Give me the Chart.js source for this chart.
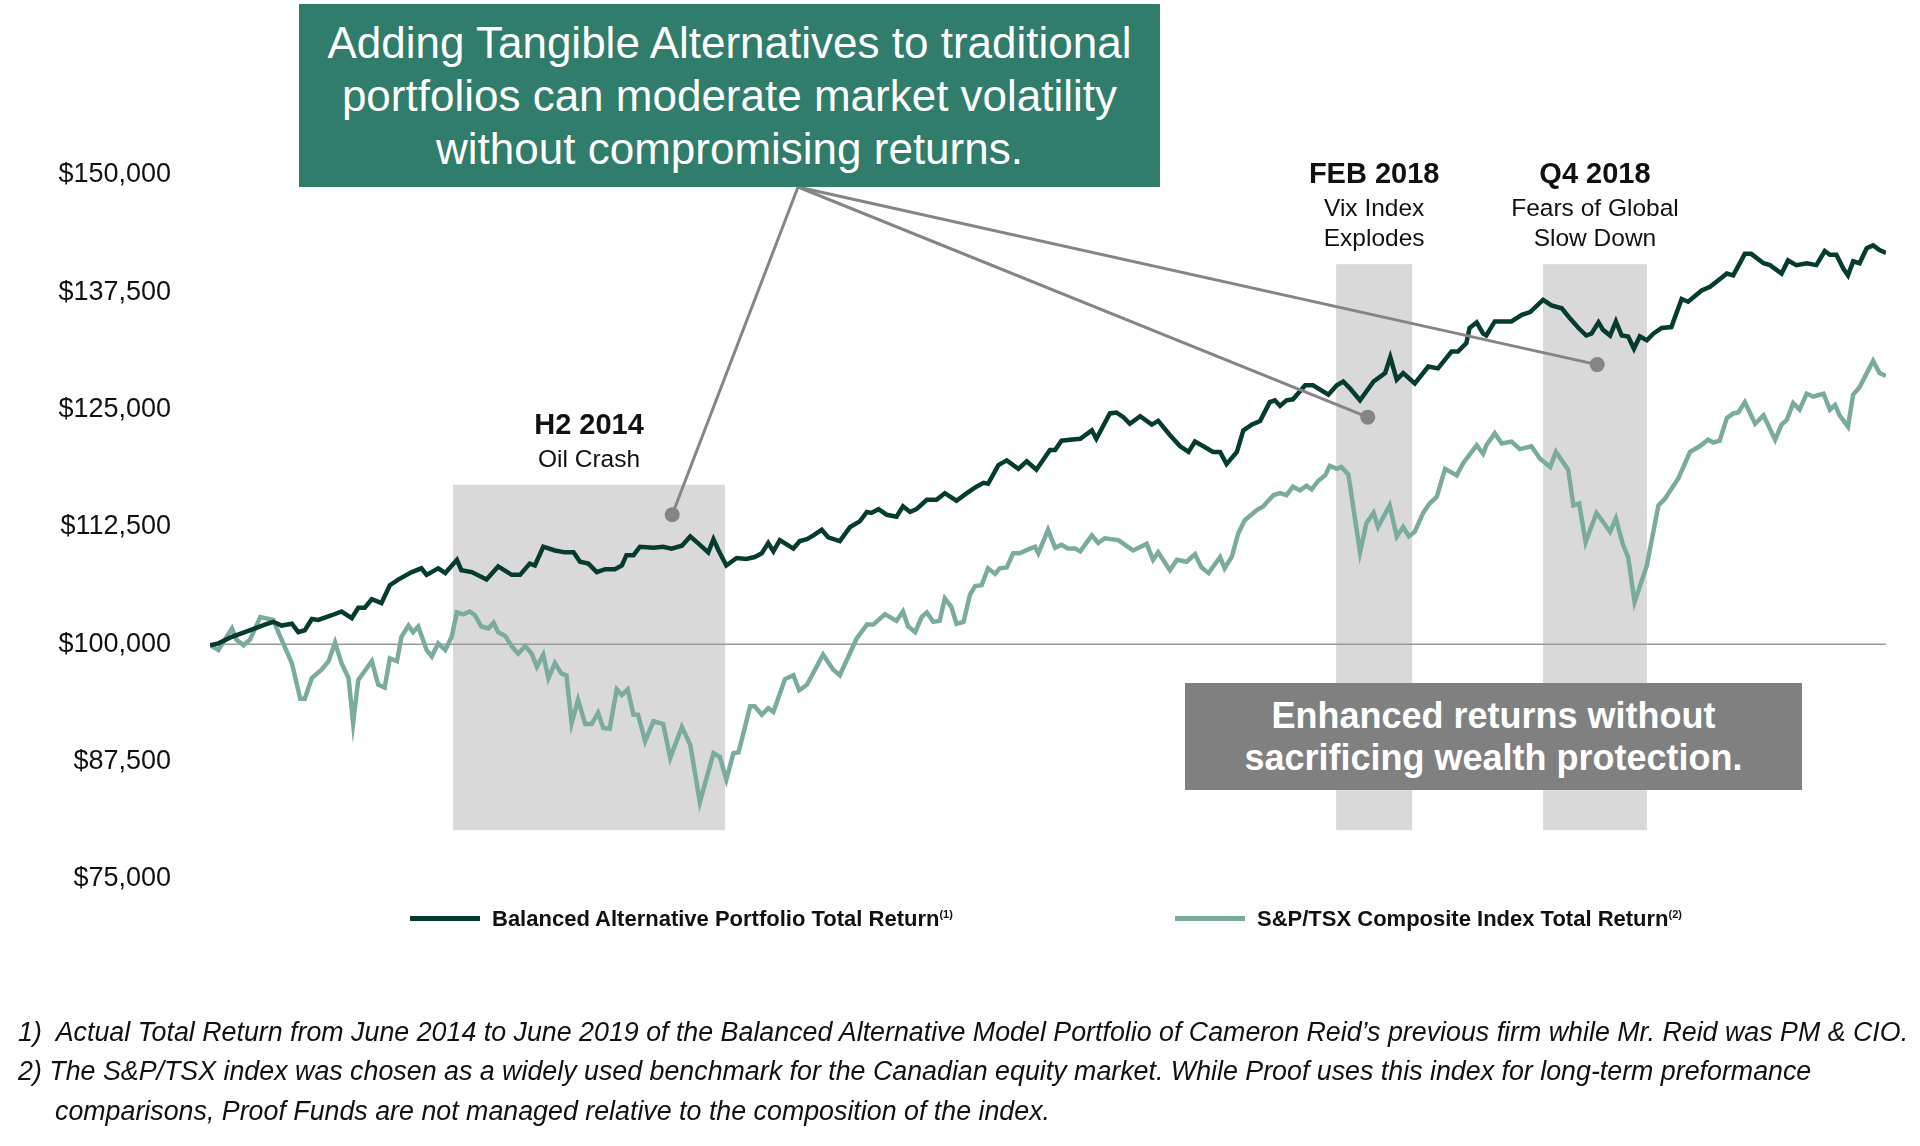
<!DOCTYPE html>
<html><head><meta charset="utf-8">
<script src="https://cdn.jsdelivr.net/npm/chart.js@4"></script>
<style>
html,body{margin:0;padding:0;background:#fff;}
#wrap{position:relative;width:1920px;height:1146px;font-family:"Liberation Sans",Arial,sans-serif;}
canvas{position:absolute;left:0;top:0;}
.box{position:absolute;color:#fff;text-align:center;display:flex;flex-direction:column;justify-content:center;}
#title{left:299px;top:4px;width:861px;height:183px;background:#2f7d6a;font-size:44px;line-height:53px;}
#enh{left:1185px;top:683px;width:617px;height:107px;background:#808080;font-size:36px;font-weight:bold;line-height:42px;}
.leg{position:absolute;top:906px;font-size:22px;font-weight:bold;color:#111;white-space:nowrap;}
.leg span.sw{display:inline-block;width:70px;height:5px;vertical-align:middle;margin-right:12px;position:relative;top:-2px;}
.leg sup{font-size:11px;}
.fn{position:absolute;left:18px;font-size:26.8px;font-style:italic;color:#111;white-space:nowrap;}
</style></head><body>
<div id="wrap">
<canvas id="c" width="1920" height="1146"></canvas>
<div id="title" class="box"><div>Adding Tangible Alternatives to traditional</div><div>portfolios can moderate market volatility</div><div>without compromising returns.</div></div>
<div id="enh" class="box"><div>Enhanced returns without</div><div>sacrificing wealth protection.</div></div>
<div class="leg" style="left:410px"><span class="sw" style="background:#063b30"></span>Balanced Alternative Portfolio Total Return<sup>(1)</sup></div>
<div class="leg" style="left:1175px"><span class="sw" style="background:#7aab9e"></span>S&amp;P/TSX Composite Index Total Return<sup>(2)</sup></div>
<div class="fn" style="top:1017px">1)&nbsp; Actual Total Return from June 2014 to June 2019 of the Balanced Alternative Model Portfolio of Cameron Reid’s previous firm while Mr. Reid was PM &amp; CIO.</div>
<div class="fn" style="top:1056px">2) The S&amp;P/TSX index was chosen as a widely used benchmark for the Canadian equity market. While Proof uses this index for long-term preformance</div>
<div class="fn" style="top:1096px;left:55px">comparisons, Proof Funds are not managed relative to the composition of the index.</div>
</div>
<script>
const yTicks=[75000,87500,100000,112500,125000,137500,150000];
const darkWeeks=[0,1.3,3.4,5.4,7.0,8.5,9.8,11.1,12.7,13.7,14.7,15.8,16.8,18.9,20.4,22.0,23.0,24.0,25.1,26.6,27.9,29.2,31.3,32.8,33.6,35.4,36.5,38.3,39.0,40.6,42.9,44.7,46.8,48.1,49.6,50.4,51.7,53.5,55.1,56.4,57.4,58.7,60.0,61.3,62.8,63.9,64.6,65.7,66.7,
68.8,70.3,71.6,73.2,74.5,76.0,77.3,78.1,78.9,80.1,81.7,83.2,84.5,85.6,86.6,87.4,88.4,90.5,91.5,92.6,93.6,94.9,95.9,97.7,99.3,100.8,101.9,102.6,103.7,105.0,106.5,107.5,108.6,109.6,111.2,112.7,114.0,115.8,117.4,118.9,120.0,120.7,122.3,123.6,125.4,126.7,128.2,130.3,131.1,132.1,133.4,
135.0,136.8,137.5,139.6,140.6,141.7,142.7,144.3,146.1,147.1,148.9,150.5,151.8,152.8,154.1,155.6,156.7,157.7,159.3,160.3,161.6,162.9,164.4,165.2,166.0,167.0,168.0,169.9,171.1,173.5,174.8,175.8,176.8,178.4,180.5,182.3,183.1,184.1,185.1,186.9,189.0,190.5,192.6,193.6,194.9,195.4,196.5,197.5,
198.0,199.3,201.9,203.5,204.8,206.8,208.1,209.7,211.0,212.3,213.5,214.3,215.4,216.1,217.2,218.1,219.0,220.0,220.9,221.8,222.9,223.9,225.2,226.7,228.3,229.3,231.4,232.7,234.2,235.3,236.3,238.1,239.1,241.0,242.0,243.8,244.8,246.1,247.7,249.2,250.5,251.3,252.3,253.4,254.1,254.9,255.9,257.0,258.0,259.0,260.0];
const darkValues=[99900,100100,100800,101300,101700,102100,102400,102000,102200,101300,101500,102700,102600,103100,103500,102800,103900,103900,104800,104400,106300,106900,107700,108100,107400,108100,107600,109000,107900,107700,106900,108300,107400,107400,108600,108400,110400,110000,109800,109800,108800,108600,107700,108000,108000,108400,109500,109500,110400,
110300,110400,110200,110500,111500,110600,109800,111200,110000,108400,109200,109100,109300,109700,110800,109900,111100,110200,111000,111200,111600,112200,111400,111000,112500,113100,114100,114000,114400,113800,113600,114700,114100,114400,115400,115400,116100,115300,116100,116800,117200,117100,119100,119600,118700,119500,118600,120700,120700,121700,121800,
121900,122800,121900,124600,124700,124200,123500,124300,123400,123800,122300,121100,120500,121600,121100,120500,120500,119200,120500,122800,123400,123800,125800,126000,125400,126000,126100,127600,127600,126600,127600,128000,127300,126000,128000,128900,130600,128200,128900,127800,129600,129400,131200,131200,132100,133700,134300,133100,
132900,134400,134400,135100,135400,136700,136100,135800,134700,133700,132900,133100,134300,133500,132900,134400,132900,132800,131500,132800,132400,133100,133700,133800,136800,136500,137700,138100,138900,139500,139300,141600,141600,140600,140400,139500,140900,140400,140600,140400,141900,141500,141500,140000,139300,140800,140600,142200,142500,142000,141700];
const tsxWeeks=[0,1.3,3.4,4.1,5.2,6.2,7.8,9.8,11.1,12.7,14.0,14.7,15.8,17.3,18.4,19.4,20.4,21.5,22.2,23.0,25.1,26.1,27.1,27.9,29.0,29.7,30.8,31.5,32.3,33.6,34.4,35.4,36.5,37.5,38.3,39.3,40.3,41.1,42.1,43.2,44.0,44.7,45.8,46.8,47.8,48.9,49.9,50.7,51.7,52.5,53.5,54.5,55.3,56.1,57.1,58.2,59.2,60.2,61.0,62.0,63.1,63.9,64.8,65.7,66.4,67.5,
68.8,70.3,71.4,73.2,74.5,76.0,78.1,79.1,80.1,81.2,82.0,83.8,84.5,85.6,86.6,87.4,89.2,90.5,91.4,92.6,95.1,96.7,97.7,100.3,101.9,102.9,104.7,106.5,107.5,108.3,109.4,110.4,111.2,112.2,113.2,114.0,115.0,115.8,116.9,117.9,118.7,119.7,120.7,121.8,122.5,123.6,124.6,125.6,127.2,128.0,128.5,130.0,131.1,132.1,133.1,134.2,
135.0,136.8,137.8,138.8,140.9,143.2,145.3,146.3,147.1,148.9,150.0,151.5,152.8,153.8,154.9,156.7,157.4,158.5,159.5,160.5,162.4,163.4,165.0,166.0,167.0,168.0,169.1,170.1,170.9,171.9,173.0,173.7,174.8,175.5,176.6,178.4,179.4,180.5,181.2,183.0,184.1,185.1,186.0,186.9,188.2,189.2,190.3,191.6,193.4,194.4,196.5,197.5,
198.0,199.3,200.4,201.9,203.2,205.0,206.3,207.9,208.8,210.7,211.5,212.4,213.4,215.1,217.2,218.1,219.2,220.0,221.0,222.9,224.7,225.7,227.8,229.6,231.1,232.4,233.2,234.2,235.3,236.3,237.1,238.1,239.7,241.0,242.8,243.8,244.6,245.6,246.6,247.7,248.7,250.3,251.3,252.1,252.8,254.1,254.9,255.9,258.0,259.0,260.0];
const tsxValues=[99900,99400,101700,100500,99900,100500,102900,102600,100500,98000,94200,94200,96400,97300,98200,100200,98000,96400,91600,96200,98200,95700,95400,98500,98200,100800,102000,101300,101900,99400,98700,100100,99400,100800,103400,103200,103500,103100,101900,101700,102300,101300,100900,99800,99000,99800,99000,97600,98900,96400,98000,96900,96700,91600,94100,91500,91500,92700,91100,91000,95200,94600,95200,92500,92500,89700,
91800,91500,87900,91200,89300,83200,88400,88000,85600,88400,88500,93400,93400,92500,93200,92800,96300,96700,95100,95700,98900,97300,96700,100600,102100,102100,103200,102500,103500,101900,101300,102900,103400,102400,102500,104900,104000,102200,102400,105300,106200,106300,108100,107500,108100,108200,109700,109700,110200,110400,109700,112200,110300,110600,110200,110200,
109900,111600,110800,111300,111100,110000,110700,109000,109800,107900,109000,108800,109600,108200,107600,109300,108100,109300,111800,113200,114300,114700,115900,116100,115900,116800,116400,116900,116500,117400,118000,119000,118700,118900,118100,109800,112900,114000,112500,114800,111500,112500,111500,112000,114000,115000,115700,118700,118000,119300,121200,120300,
121200,122500,121400,121600,120800,121100,119800,118900,120500,118600,114800,115000,110900,114000,112000,113400,110600,109300,104500,108400,114800,115500,117700,120500,121100,121800,121500,121700,124100,124600,124700,125800,123500,124400,121800,123400,123900,125700,125000,126700,126400,126700,125000,125500,124400,123200,126600,127400,130200,128900,128600];
// annotation regions [startWeek,endWeek,topValue]
const regions=[[37.7,79.9,117000],[174.7,186.5,140500],[206.8,222.9,140500]];
const regionBottom=80200;
const regionLabels=[["H2 2014","Oil Crash"],["FEB 2018","Vix Index","Explodes"],["Q4 2018","Fears of Global","Slow Down"]];
const callouts=[[71.7,113800],[179.6,124200],[215.2,129800]];

const fmt=v=>'$'+v.toLocaleString('en-US');
const toPts=(w,v)=>w.map((x,i)=>({x:x,y:v[i]}));

const annot={id:'annot',
 beforeDatasetsDraw(ch){
  const c=ch.ctx,x=ch.scales.x,y=ch.scales.y;
  c.save();
  c.fillStyle='#d9d9d9';
  regions.forEach(r=>{const x0=x.getPixelForValue(r[0]),x1=x.getPixelForValue(r[1]);const y0=y.getPixelForValue(r[2]),y1=y.getPixelForValue(regionBottom);c.fillRect(x0,y0,x1-x0,y1-y0);});
  c.strokeStyle='#999';c.lineWidth=1.5;
  const by=y.getPixelForValue(100000);
  c.beginPath();c.moveTo(x.left,by);c.lineTo(x.right,by);c.stroke();
  c.fillStyle='#111';c.textAlign='center';c.textBaseline='alphabetic';
  regions.forEach((r,i)=>{
   const cx=(x.getPixelForValue(r[0])+x.getPixelForValue(r[1]))/2;
   const top=y.getPixelForValue(r[2]);
   const L=regionLabels[i];
   const n=L.length;
   L.forEach((t,j)=>{
     c.font=(j==0?'bold 29px':'24.5px')+' "Liberation Sans",Arial,sans-serif';
     const yy=top-18-(n-1-j)*30 - (j==0?3:0);
     c.fillText(t,cx,yy);
   });
  });
  c.restore();
 },
 afterDatasetsDraw(ch){
  const c=ch.ctx,x=ch.scales.x,y=ch.scales.y;
  c.save();
  c.strokeStyle='#858585';c.fillStyle='#858585';c.lineWidth=3;
  callouts.forEach(p=>{const px=x.getPixelForValue(p[0]),py=y.getPixelForValue(p[1]);
   c.beginPath();c.moveTo(798,187);c.lineTo(px,py);c.stroke();
   c.beginPath();c.arc(px,py,7.5,0,Math.PI*2);c.fill();});
  c.restore();
 }};

new Chart(document.getElementById('c'),{
 type:'line',
 data:{datasets:[
  {label:'Balanced Alternative Portfolio Total Return',data:toPts(darkWeeks,darkValues),borderColor:'#063b30',borderWidth:4.5,pointRadius:0,tension:0},
  {label:'S&P/TSX Composite Index Total Return',data:toPts(tsxWeeks,tsxValues),borderColor:'#7aab9e',borderWidth:4.5,pointRadius:0,tension:0}
 ]},
 options:{responsive:false,animation:false,
  layout:{padding:{left:0,right:34,top:175,bottom:267}},
  plugins:{legend:{display:false},tooltip:{enabled:false}},
  scales:{
   x:{type:'linear',min:0,max:260,display:false},
   y:{min:75000,max:150000,afterFit(s){s.width=210;},
      afterBuildTicks(s){s.ticks=yTicks.map(v=>({value:v}));},
      grid:{display:false,drawTicks:false},border:{display:false},
      ticks:{padding:39,color:'#111',font:{family:'"Liberation Sans",Arial,sans-serif',size:27},callback:v=>fmt(v)}}
  }},
 plugins:[annot]
});
</script>
</body></html>
